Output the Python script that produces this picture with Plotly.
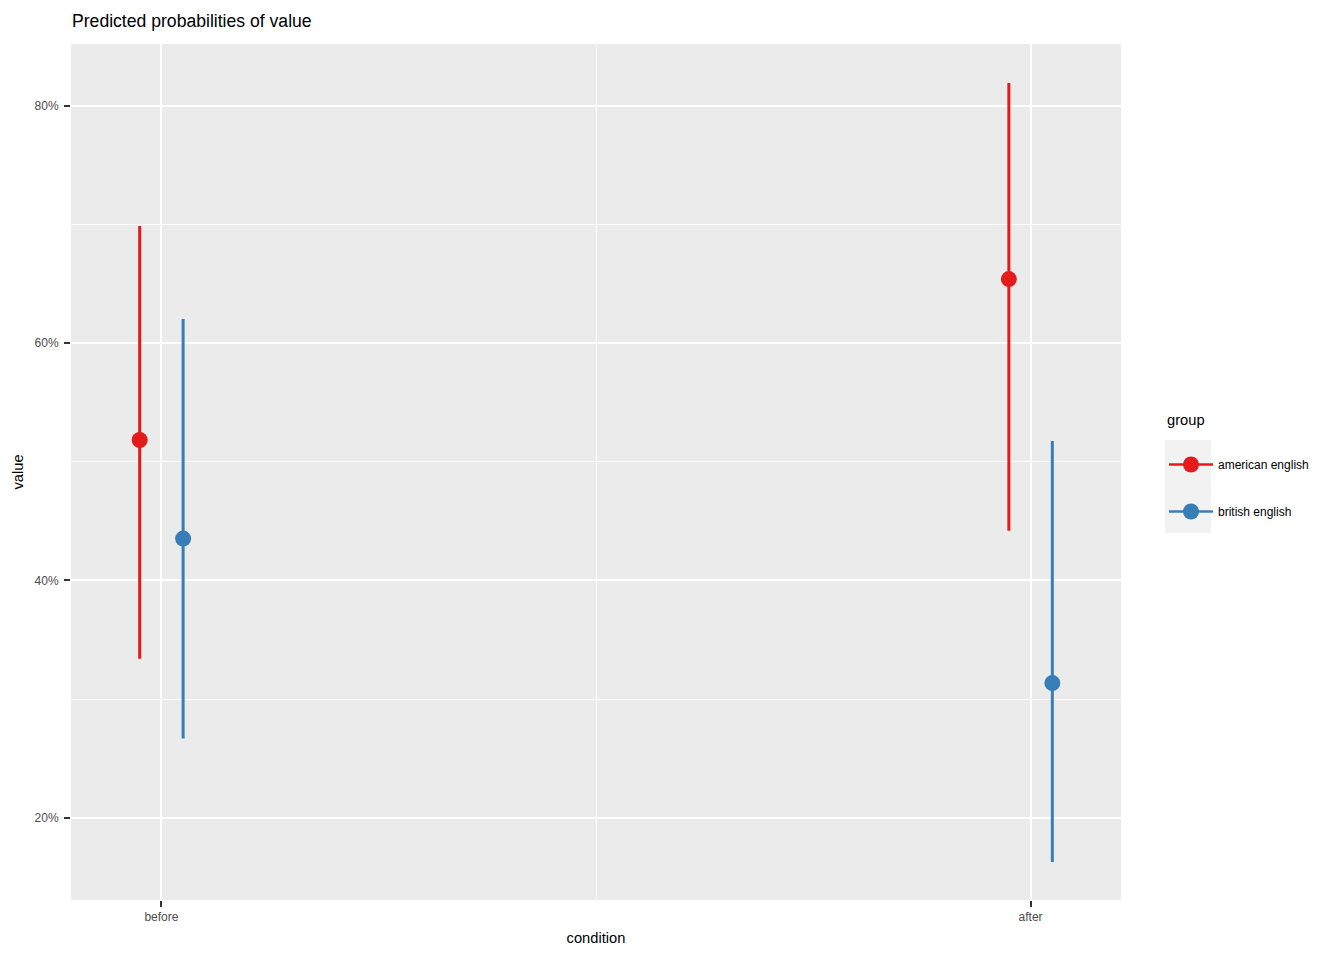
import plotly.graph_objects as go

conditions = ["before", "after"]
groups = ["american english", "british english"]
colors = ["#E41A1C", "#377EB8"]

predicted = {
    "american english": [0.5184, 0.6541],
    "british english": [0.4353, 0.3135],
}
conf_low = {
    "american english": [0.3341, 0.4419],
    "british english": [0.2667, 0.1626],
}
conf_high = {
    "american english": [0.6988, 0.8194],
    "british english": [0.6205, 0.5176],
}

y_ticks = [0.2, 0.4, 0.6, 0.8]
y_minor = [0.3, 0.5, 0.7]

dodge_width = 0.1
n_groups = len(groups)

fig = go.Figure()
for gi, g in enumerate(groups):
    offset = (gi - (n_groups - 1) / 2) * dodge_width / n_groups
    xs, ys, eplus, eminus = [], [], [], []
    for ci, c in enumerate(conditions):
        if ci > 0:
            xs.append(None); ys.append(None); eplus.append(None); eminus.append(None)
        p = predicted[g][ci]
        xs.append(ci + offset)
        ys.append(p)
        eplus.append(conf_high[g][ci] - p)
        eminus.append(p - conf_low[g][ci])
    fig.add_trace(go.Scatter(
        x=xs, y=ys, name=g, legendgroup=g,
        mode="lines+markers",
        connectgaps=False,
        line=dict(color=colors[gi], width=2.5),
        marker=dict(color=colors[gi], size=16),
        error_y=dict(type="data", symmetric=False, array=eplus, arrayminus=eminus,
                     color=colors[gi], thickness=3, width=0),
    ))

W, H = 1344, 960
L, R, T, B = 71, 223, 44, 60
pw, ph = W - L - R, H - T - B

def px_x(px):
    return (px - L) / pw

def px_y(py):
    return (H - B - py) / ph

fig.add_shape(type="rect", xref="paper", yref="paper",
              x0=px_x(1165), x1=px_x(1211), y0=px_y(533), y1=px_y(440),
              fillcolor="#F2F2F2", line=dict(width=0), layer="below")

fig.add_annotation(text="group", xref="paper", yref="paper",
                   x=px_x(1165), xanchor="left", y=px_y(420), yanchor="middle",
                   showarrow=False, font=dict(size=14.7, color="black"))

fig.update_layout(
    width=W, height=H,
    margin=dict(l=L, r=R, t=T, b=B),
    paper_bgcolor="white",
    plot_bgcolor="#EBEBEB",
    font=dict(family="Liberation Sans, Arial, sans-serif", color="black"),
    title=dict(text="Predicted probabilities of value", x=72 / W, xanchor="left",
               xref="container", yref="container", y=1 - 21 / H, yanchor="middle",
               font=dict(size=17.6, color="black")),
    xaxis=dict(
        range=[-0.104, 1.104], tickmode="array", tickvals=list(range(len(conditions))),
        ticktext=conditions, showgrid=True, gridcolor="white", gridwidth=2,
        zeroline=False, showline=False,
        ticks="outside", ticklen=6, tickwidth=1.5, tickcolor="#333333",
        tickfont=dict(size=12, color="#4D4D4D"),
        minor=dict(tickmode="array", tickvals=[0.5], showgrid=True, gridcolor="white",
                   gridwidth=1, ticks=""),
        title=dict(text="condition", font=dict(size=14.7, color="black"), standoff=9),
        automargin=False,
    ),
    yaxis=dict(
        range=[0.1306, 0.8523], tickmode="array", tickvals=y_ticks, tickformat=".0%",
        showgrid=True, gridcolor="white", gridwidth=2, zeroline=False, showline=False,
        ticks="outside", ticklen=6, tickwidth=1.5, tickcolor="#333333",
        tickfont=dict(size=12, color="#4D4D4D"), ticklabelstandoff=3,
        minor=dict(tickmode="array", tickvals=y_minor, showgrid=True, gridcolor="white",
                   gridwidth=1, ticks=""),
        title=dict(text="value", font=dict(size=14.7, color="black"), standoff=7),
        automargin=False,
    ),
    legend=dict(
        x=px_x(1164), xanchor="left", y=px_y(450), yanchor="top",
        font=dict(size=12, color="black"),
        bgcolor="rgba(0,0,0,0)", traceorder="grouped", tracegroupgap=28,
        itemwidth=44,
    ),
)

fig.write_html("out.html", config={"displayModeBar": False},
               post_script="document.body.style.margin='0';document.body.style.overflow='hidden';")
